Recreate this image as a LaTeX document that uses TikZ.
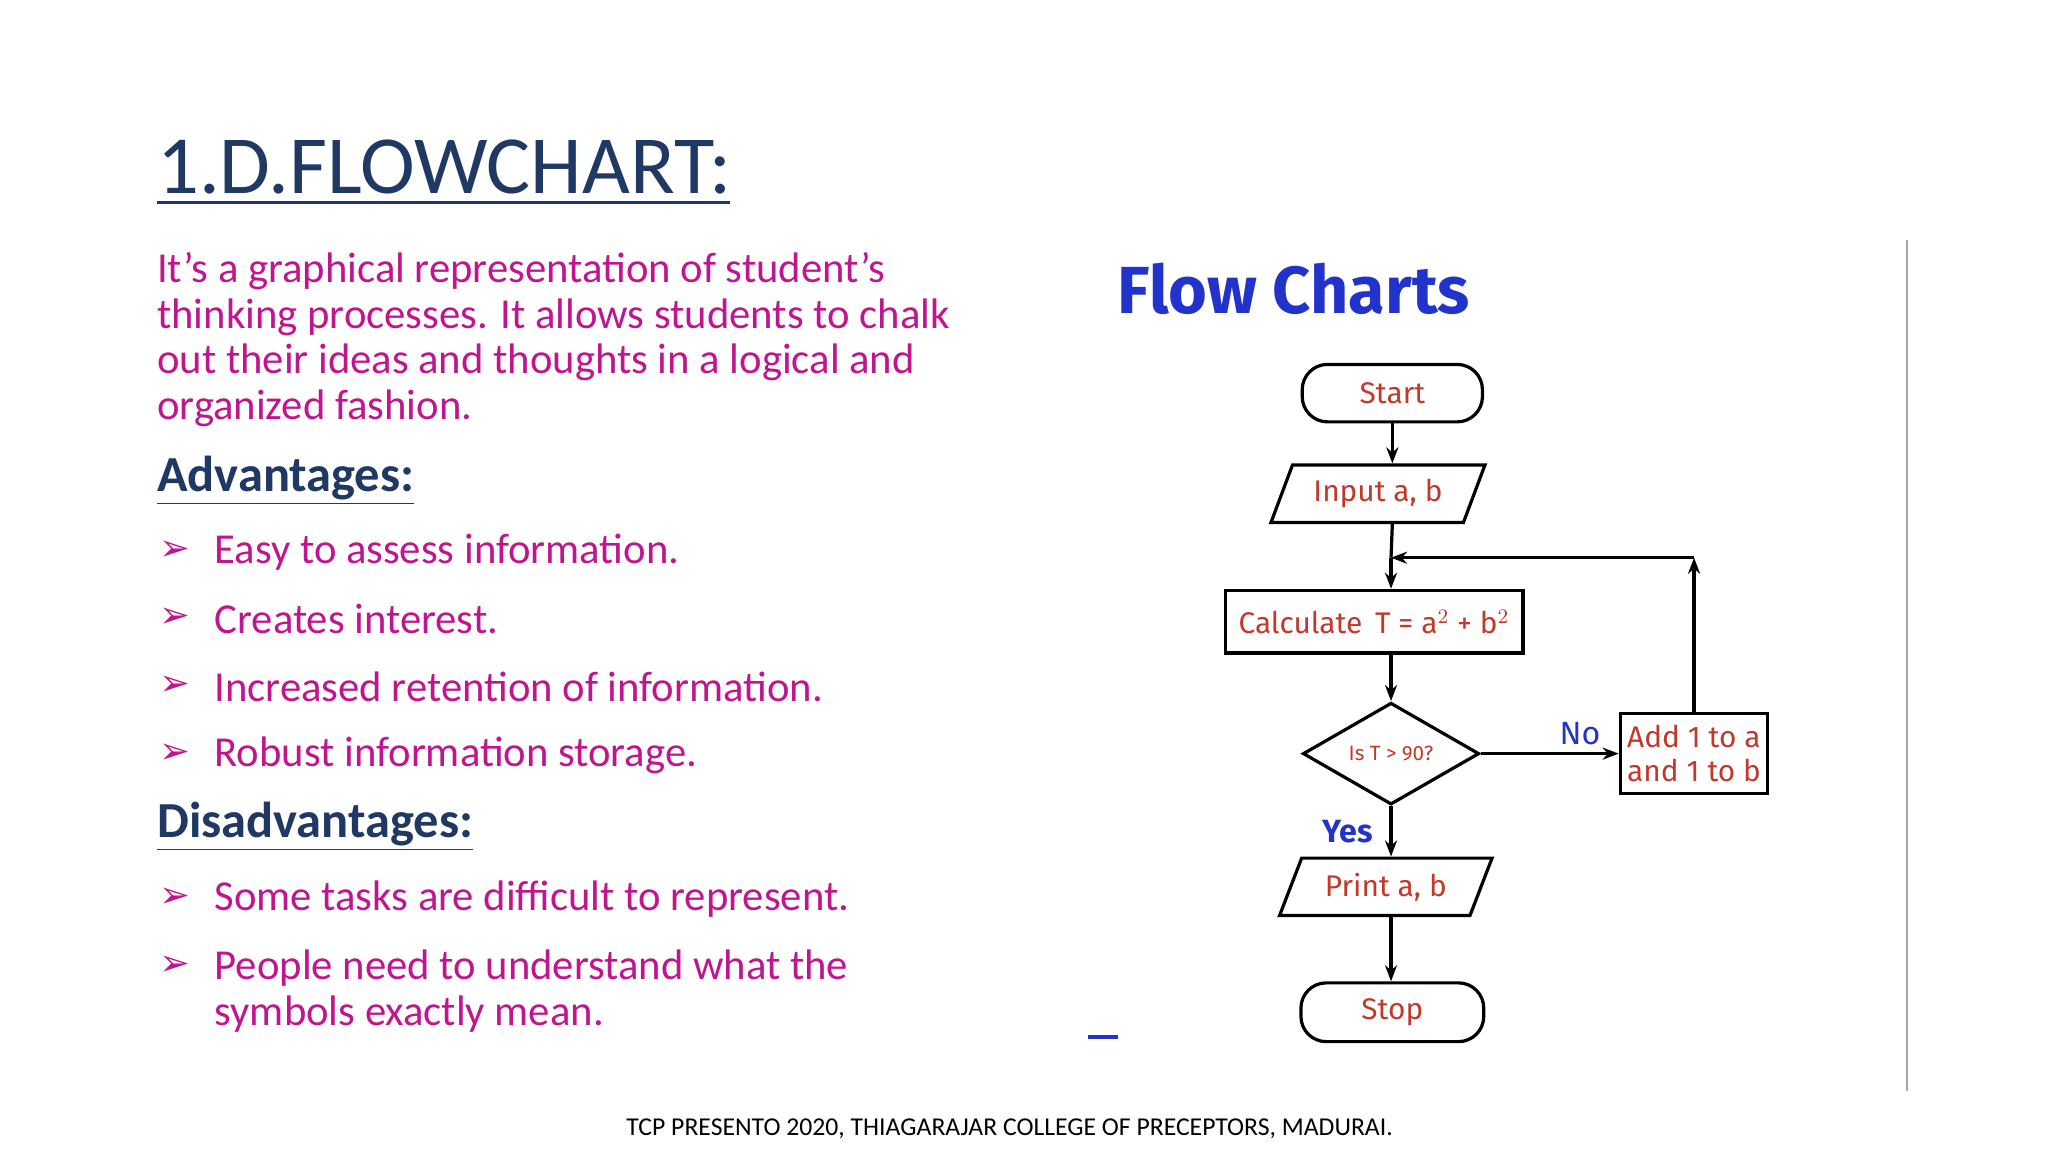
\documentclass[tikz,border=0pt]{standalone}
\usepackage{fontspec}
\setmainfont{Carlito}
\newfontfamily\dvs{DejaVu Sans}
\newfontfamily\fcfont{Fira Sans}
\usetikzlibrary{shapes.geometric,arrows.meta}
\definecolor{pinkt}{HTML}{C0158F}
\definecolor{navy}{HTML}{1F3864}
\definecolor{fcred}{HTML}{C0392B}
\definecolor{fcblue}{HTML}{2233CC}
\tikzset{
 body/.style={anchor=west,text=pinkt,font=\fontsize{18.6}{20}\selectfont,inner sep=0},
 bul/.style={anchor=west,text=pinkt,font=\dvs\fontsize{16}{20}\selectfont,inner sep=0},
 head/.style={anchor=west,text=navy,font=\bfseries\fontsize{22}{26}\selectfont,inner sep=0},
 fc/.style={draw,line width=1.4pt,text=fcred,font=\fcfont\fontsize{13}{15}\selectfont},
 para/.style={trapezium,trapezium left angle=64,trapezium right angle=116,minimum height=0.88cm,inner xsep=0pt,inner ysep=1pt,trapezium stretches=true},
 ar/.style={line width=1.4pt,-{Stealth[length=7pt]}},
}
\begin{document}
\begin{tikzpicture}[x=0.02cm,y=-0.02cm]
\useasboundingbox (0,0) rectangle (1568,882);
\node[anchor=west,text=navy,font=\fontsize{36}{40}\selectfont,inner sep=0] (title) at (120,128) {1.D.FLOWCHART:};
\draw[navy,line width=1.5pt] (120,155)--(559,155);
\node[anchor=north west,text=pinkt,font=\fontsize{18.6}{19.9}\selectfont,align=left,inner sep=0] (para) at (120,193) {It’s a graphical representation of student’s\\thinking processes. It allows students to chalk\\out their ideas and thoughts in a logical and\\organized fashion.};
\node[head] (adv) at (120,368) {\underline{Advantages:}};
\node[bul] (b1) at (122,422) {➢}; \node[body] (t1) at (164,423) {Easy to assess information.};
\node[bul] (b2) at (122,473) {➢}; \node[body] (t2) at (164,474) {Creates interest.};
\node[bul] (b3) at (122,525) {➢}; \node[body] (t3) at (164,526) {Increased retention of information.};
\node[bul] (b4) at (122,577) {➢}; \node[body] (t4) at (164,578) {Robust information storage.};
\node[head] (dis) at (120,633) {\underline{Disadvantages:}};
\node[bul] (b5) at (122,687) {➢}; \node[body] (t5) at (164,688) {Some tasks are difficult to represent.};
\node[bul] (b6) at (122,739) {➢}; \node[anchor=north west,text=pinkt,font=\fontsize{18.6}{19.9}\selectfont,align=left,inner sep=0] (t6) at (164,727) {People need to understand what the\\symbols exactly mean.};
% flowchart
\node[anchor=west,text=fcblue,font=\fcfont\bfseries\fontsize{29}{34}\selectfont,inner sep=0] (fct) at (855,221) {Flow Charts};
\node[fc,rounded corners=11pt,minimum width=2.76cm,minimum height=0.88cm] (start) at (1066,301) {Start};
\node[fc,para,minimum width=3.28cm] (inp) at (1055,378) {Input a, b};
\node[fc,minimum width=4.56cm,minimum height=0.96cm] (calc) at (1052,476) {Calculate\, T = a$^2$ + b$^2$};
\node[fc,diamond,aspect=1.7,minimum width=2.7cm,minimum height=1.56cm,inner sep=0,font=\fcfont\fontsize{9}{11}\selectfont] (dec) at (1065,577) {Is T > 90?};
\node[fc,minimum width=2.26cm,minimum height=1.22cm,align=left,inner sep=2pt] (add) at (1297,577) {Add 1 to a\\and 1 to b};
\node[fc,para,minimum width=3.26cm] (prt) at (1061,679) {Print a, b};
\node[fc,rounded corners=11pt,minimum width=2.8cm,minimum height=0.9cm] (stop) at (1066,775) {Stop};
\coordinate (j) at (1065,427);
\coordinate (c1) at (1297,427);
\draw[ar] (start) -- (start|-inp.north);
\draw[line width=1.4pt] (inp.south-|start) -- (j);
\draw[ar] (j) -- (calc.north-|j);
\draw[ar] (calc.south-|dec) -- (dec.north);
\draw[ar] (dec.east) -- node[above,text=fcblue,font=\fcfont\fontsize{14}{17}\selectfont,pos=0.72] {No} (add.west);
\draw[ar] (dec.south) -- node[left,text=fcblue,font=\fcfont\bfseries\fontsize{14}{17}\selectfont,pos=0.5,xshift=-4pt] {Yes} (dec.south|-prt.north);
\draw[ar] (dec.south|-prt.south) -- (dec.south|-stop.north);
\draw[ar] (add.north) -- (c1);
\draw[ar] (c1) -- (j);
\draw[gray!70,line width=1pt] (1460,184)--(1460,835);
\draw[fcblue,line width=2pt] (833,794)--(856,794);
\node[font=\fontsize{11.2}{13}\selectfont,inner sep=0] (foot) at (773,864) {TCP PRESENTO 2020, THIAGARAJAR COLLEGE OF PRECEPTORS, MADURAI.};
\end{tikzpicture}
\end{document}
